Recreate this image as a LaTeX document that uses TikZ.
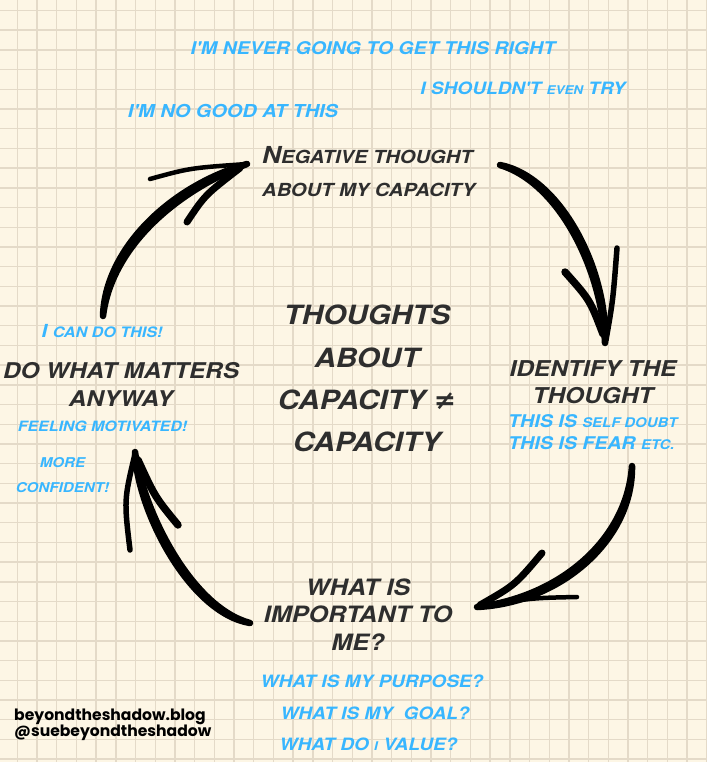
\documentclass[tikz,border=0pt]{standalone}
\usepackage{fontspec}
\usepackage{relsize}
\setmainfont{TeX Gyre Heros}
\newfontfamily\handfont[FakeStretch=1.12]{TeX Gyre Heros}
\newfontfamily\popfont{Poppins}
\newfontfamily\dejafont{DejaVu Sans}
\definecolor{bgc}{HTML}{FDF6E5}
\definecolor{gridc}{HTML}{E4DAC8}
\definecolor{sky}{HTML}{38B6FF}
\definecolor{ink}{HTML}{2E2E2E}
\newcommand\sml[1]{{\relscale{0.74}#1}}
\newcommand\hf[2]{\handfont\bfseries\itshape\fontsize{#1}{#2}\selectfont}
\begin{document}
\begin{tikzpicture}[x=1pt,y=-1pt,
  hand/.style={inner sep=0pt, text=ink},
  bluetxt/.style={inner sep=0pt, text=sky},
  shaft/.style={fill=black, draw=black, line width=6.5, line join=round, line cap=round},
  barbline/.style={draw=black, line cap=round, line join=round, line width=#1}]
\useasboundingbox (0,0) rectangle (706,762);
\fill[bgc] (0,0) rectangle (706,762);
\foreach \i in {0,...,35} \draw[gridc, line width=1.4] ({17.3+19.7*\i},0) -- ++(0,762);
\foreach \j in {0,...,38} \draw[gridc, line width=1.4] (0,{10.5+19.7*\j}) -- ++(706,0);

% blue thoughts
\node[bluetxt, font=\hf{17.5}{20}] (never) at (373,48) {I'M NEVER GOING TO GET THIS RIGHT};
\node[bluetxt, font=\hf{17}{20}] (should) at (523,88) {I SHOULDN'T \sml{EVEN} TRY};
\node[bluetxt, font=\hf{17.8}{20}] (nogood) at (233,111) {I'M NO GOOD AT THIS};

% step nodes
\node[hand, anchor=west, align=left, font=\hf{18}{33}] (neg) at (262,171.5) {{\relscale{1.3}N}EGATIVE THOUGHT\\ABOUT MY CAPACITY};
\node[hand, align=center, font=\hf{26.5}{42.3}] (center) at (367,378.5) {THOUGHTS\\ABOUT\\CAPACITY {\dejafont\bfseries ≠}\\CAPACITY};
\node[hand, align=center, font=\hf{21.8}{27}] (ident) at (593,382.5) {IDENTIFY THE\\THOUGHT};
\node[bluetxt, anchor=west, align=left, font=\hf{17.5}{22}] (doubt) at (508,432) {THIS IS {\relscale{0.76}SELF DOUBT}\\THIS IS FEAR {\relscale{0.76}ETC.}};
\node[hand, align=center, font=\hf{22.5}{27.5}] (import) at (358,614.5) {WHAT IS\\IMPORTANT TO\\ME?};
\node[bluetxt, font=\hf{17}{20}] (purpose) at (372,681) {WHAT IS MY PURPOSE?};
\node[bluetxt, font=\hf{17}{20}] (goal) at (375,713) {WHAT IS MY\ \ GOAL?};
\node[bluetxt, font=\hf{17}{20}] (value) at (368.5,744) {WHAT DO \sml{I} VALUE?};
\node[hand, align=center, font=\hf{21.7}{28}] (domatter) at (121,384) {DO WHAT MATTERS\\ANYWAY};
\node[bluetxt, font=\hf{18}{20}] (can) at (102,331) {I {\relscale{0.8}CAN DO THIS!}};
\node[bluetxt, font=\hf{14.2}{20}] (motiv) at (102.5,426) {FEELING MOTIVATED!};
\node[bluetxt, align=center, font=\hf{13.5}{25}] (conf) at (62.5,475.5) {MORE\\CONFIDENT!};
\node[anchor=west, align=left, inner sep=0pt, font=\popfont\bfseries\fontsize{15.6}{16.5}\selectfont] (blog) at (14,725) {beyondtheshadow.blog\\@suebeyondtheshadow};

% arrow 1: up to negative thought
\draw[shaft] (103,316) .. controls (111,250.25) and (171.1,193.3) .. (247,164)
   .. controls (168.9,186.7) and (105,249.75) .. cycle;
\draw[barbline=4.5] (150,179) .. controls (190,168) .. (247,164);
\draw[barbline=7] (187,222) .. controls (205,195) .. (240,168);
% arrow 2: down to identify
\draw[shaft] (500,165) .. controls (559.25,182.9) and (602,270) .. (605,343)
   .. controls (608,270) and (560.75,177.1) .. cycle;
\draw[barbline=5.5] (617,248) .. controls (613,300) .. (606,340);
\draw[barbline=7.5] (565,272) .. controls (590,300) .. (603,334);
% arrow 3: to important
\draw[shaft] (632,466) .. controls (627,539.9) and (559.75,597) .. (477,607)
   .. controls (560.25,603) and (633,540.1) .. cycle;
\draw[barbline=7] (542,553) .. controls (515,585) .. (480,605);
\draw[barbline=4.5] (577,597) .. controls (530,598) .. (480,607);
% arrow 4: up to do what matters
\draw[shaft] (250,623) .. controls (190.65,607.05) and (143,509.75) .. (135,452)
   .. controls (137,510.25) and (189.35,612.95) .. cycle;
\draw[barbline=5.5] (130,550) .. controls (124,500) .. (135,454);
\draw[barbline=7.5] (178,525) .. controls (155,497) .. (138,460);
\end{tikzpicture}
\end{document}
